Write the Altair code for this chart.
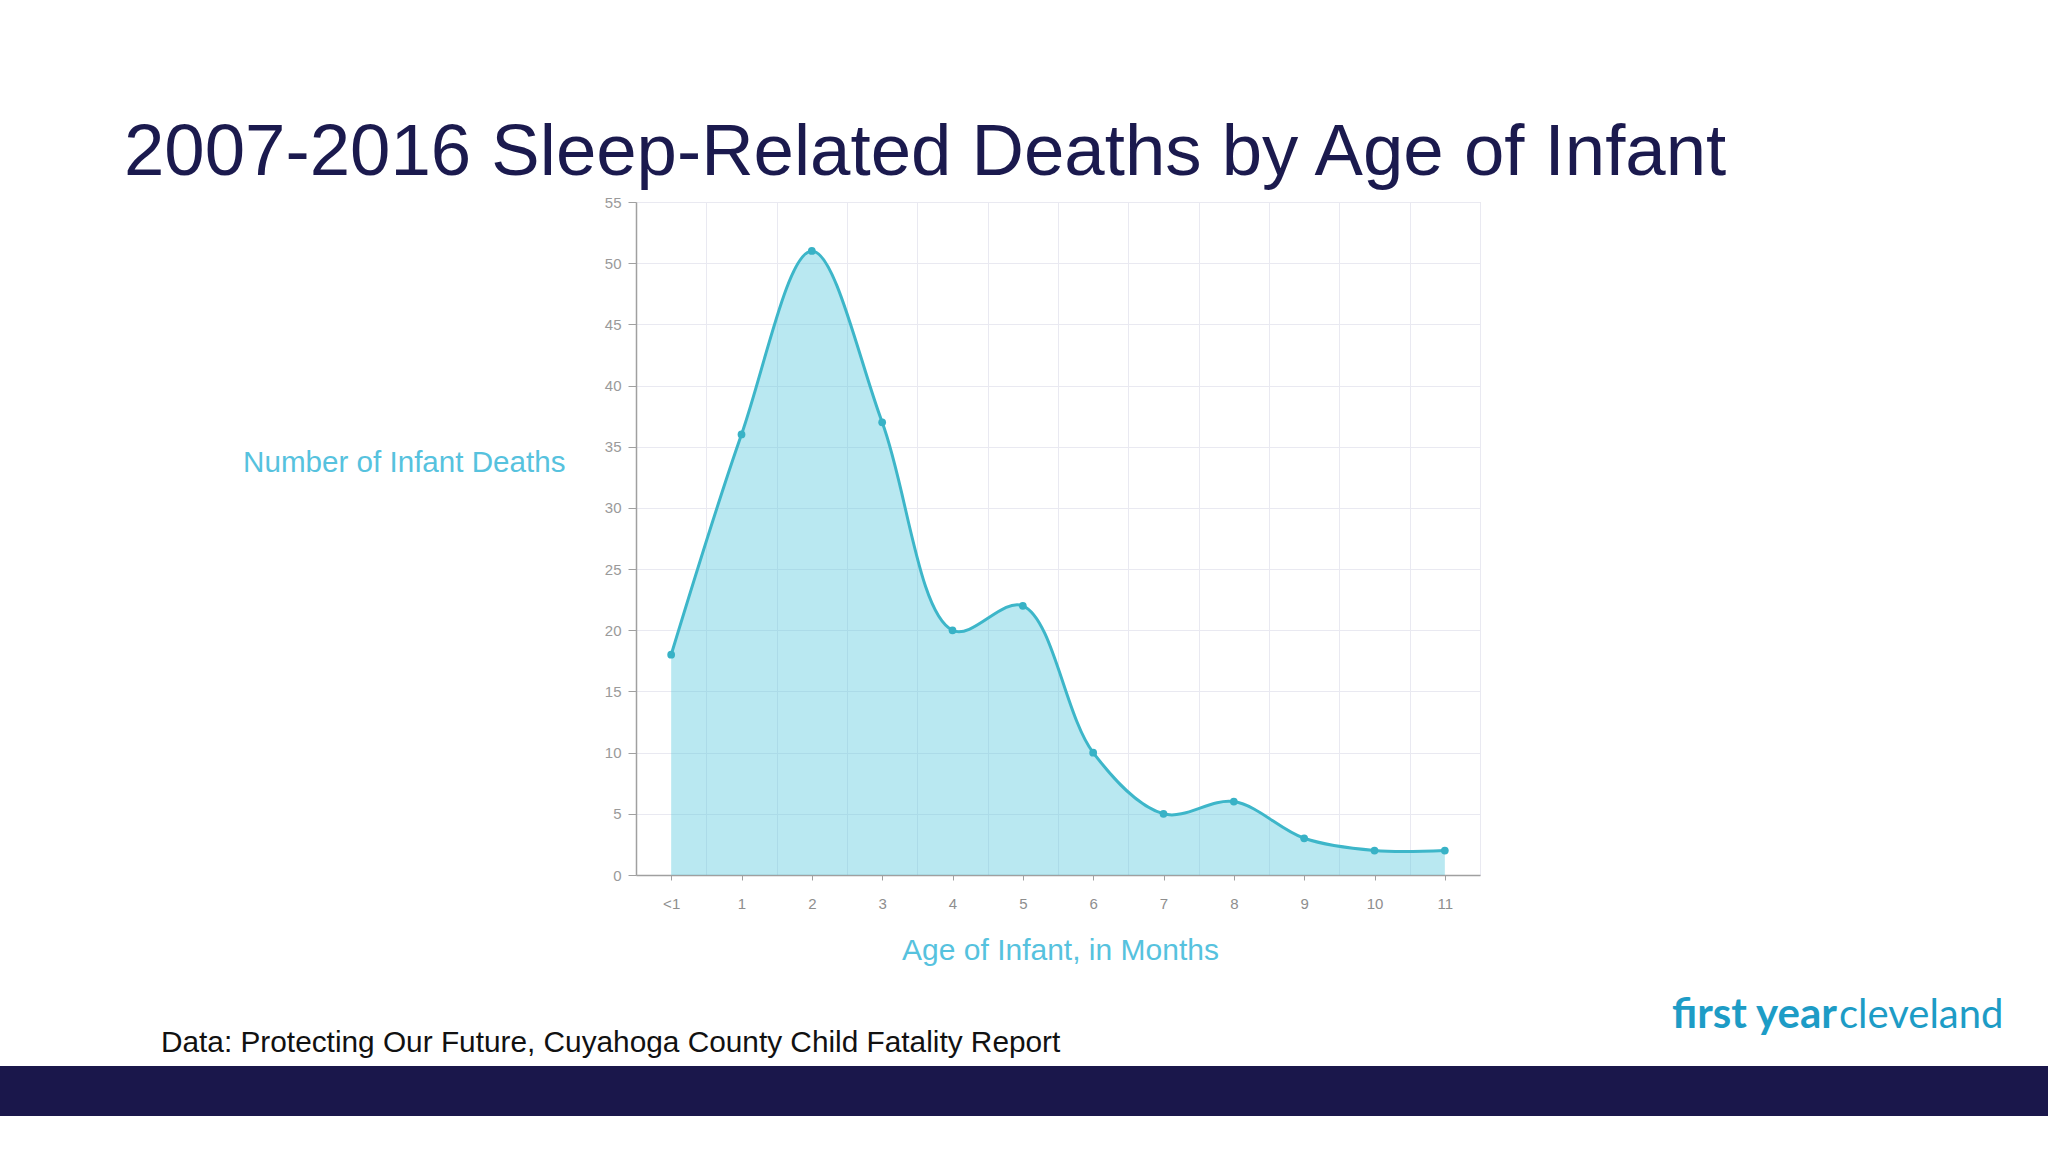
import json

import altair as alt
import pandas as pd

# Sleep-related infant deaths, Cuyahoga County, 2007-2016, by age in months
age_labels = ["<1", "1", "2", "3", "4", "5", "6", "7", "8", "9", "10", "11"]
deaths = [18, 36, 51, 37, 20, 22, 10, 5, 6, 3, 2, 2]

y_ticks = [0, 5, 10, 15, 20, 25, 30, 35, 40, 45, 50, 55]

TITLE = "2007-2016 Sleep-Related Deaths by Age of Infant"
SOURCE = "Data: Protecting Our Future, Cuyahoga County Child Fatality Report"
Y_TITLE = "Number of Infant Deaths"
X_TITLE = "Age of Infant, in Months"
LOGO_BOLD = "first year"
LOGO_LIGHT = "cleveland"

df = pd.DataFrame({
    "month": list(range(len(age_labels))),
    "age": age_labels,
    "deaths": deaths,
})

# page and plot-area geometry (pixels)
PAGE_W, PAGE_H = 2048, 1152
LEFT, TOP = 636, 202
PLOT_W, PLOT_H = 844, 673

FONT = "Liberation Sans"
NAVY = "#1B1A4E"
TEAL = "#3DB6C9"
TEAL_TEXT = "#56C2DE"
GRID = "#E9E9F1"
AXIS_GREY = "#A0A0A0"
CURVE = "catmull-rom"

x_scale = alt.Scale(domain=[-0.5, len(age_labels) - 0.5], nice=False, zero=False)
y_scale = alt.Scale(domain=[0, 55], nice=False)

# category boundaries carry the vertical grid lines
band_edges = [i - 0.5 for i in range(len(age_labels) + 1)]
label_expr = json.dumps(age_labels) + "[datum.value]"

y_axis = alt.Axis(
    values=y_ticks,
    title=Y_TITLE,
    titleAngle=0,
    titleAlign="right",
    titleBaseline="middle",
    titleX=-71,
    titleY=260,
    titleFont=FONT,
    titleFontSize=29.6,
    titleFontWeight="normal",
    titleColor=TEAL_TEXT,
    labelFont=FONT,
    labelFontSize=15,
    labelColor="#9A9A9A",
    labelPadding=7,
    tickSize=8,
    tickColor=AXIS_GREY,
    domainColor=AXIS_GREY,
    domainWidth=1.5,
    grid=True,
    gridColor=GRID,
)

grid_x_axis = alt.Axis(
    orient="top",
    values=band_edges,
    grid=True,
    gridColor=GRID,
    labels=False,
    ticks=False,
    domain=False,
)

label_x_axis = alt.Axis(
    orient="bottom",
    values=list(range(len(age_labels))),
    labelExpr=label_expr,
    grid=False,
    title=X_TITLE,
    titleFont=FONT,
    titleFontSize=30,
    titleFontWeight="normal",
    titleColor=TEAL_TEXT,
    titleAlign="center",
    titleBaseline="middle",
    titleX=424,
    titleY=75,
    labelFont=FONT,
    labelFontSize=15,
    labelColor="#8E8E8E",
    labelPadding=16,
    tickSize=5,
    tickColor=AXIS_GREY,
    domainColor=AXIS_GREY,
    domainWidth=1.5,
)

base = alt.Chart(df)

area = base.mark_area(interpolate=CURVE, color="#4FC6DB", opacity=0.4).encode(
    x=alt.X("month:Q", scale=x_scale, axis=grid_x_axis, title=None),
    y=alt.Y("deaths:Q", scale=y_scale, axis=y_axis),
)

line = base.mark_line(interpolate=CURVE, color=TEAL, strokeWidth=3).encode(
    x=alt.X("month:Q", scale=x_scale, axis=label_x_axis),
    y=alt.Y("deaths:Q", scale=y_scale, axis=y_axis),
)

points = base.mark_point(filled=True, size=60, color="#38B2C6", opacity=1).encode(
    x=alt.X("month:Q", scale=x_scale, axis=None),
    y=alt.Y("deaths:Q", scale=y_scale, axis=y_axis),
    tooltip=["age:N", "deaths:Q"],
)

one_row = alt.Data(values=[{}])

title_text = alt.Chart(one_row).mark_text(
    text=TITLE, font=FONT, fontSize=72.6, color=NAVY, align="left", baseline="alphabetic"
).encode(x=alt.value(124 - LEFT), y=alt.value(175 - TOP))

source_text = alt.Chart(one_row).mark_text(
    text=SOURCE, font=FONT, fontSize=29.8, color="#111111", align="left", baseline="alphabetic"
).encode(x=alt.value(161 - LEFT), y=alt.value(1052 - TOP))

logo_bold = alt.Chart(one_row).mark_text(
    text=LOGO_BOLD, font="Lato", fontSize=42, fontWeight="bold", color="#1D9CC6",
    align="left", baseline="alphabetic"
).encode(x=alt.value(1672 - LEFT), y=alt.value(1028 - TOP))

logo_light = alt.Chart(one_row).mark_text(
    text=LOGO_LIGHT, font="Lato", fontSize=40, color="#1D9CC6",
    align="left", baseline="alphabetic"
).encode(x=alt.value(1839 - LEFT), y=alt.value(1028 - TOP))

footer_bar = alt.Chart(one_row).mark_rect(color="#1A174B").encode(
    x=alt.value(-LEFT),
    x2=alt.value(PAGE_W - LEFT),
    y=alt.value(1066 - TOP),
    y2=alt.value(1116 - TOP),
)

chart = (
    alt.layer(area, line, points, title_text, source_text, logo_bold, logo_light, footer_bar)
    .resolve_axis(x="independent")
    .properties(
        width=PLOT_W,
        height=PLOT_H,
        autosize=alt.AutoSizeParams(type="none"),
        padding={"left": LEFT, "top": TOP, "right": PAGE_W - LEFT - PLOT_W, "bottom": PAGE_H - TOP - PLOT_H},
        background="white",
    )
    .configure_view(strokeWidth=0)
    .configure(font=FONT)
)

chart.save("out.html", embed_options={"renderer": "svg", "actions": False})
